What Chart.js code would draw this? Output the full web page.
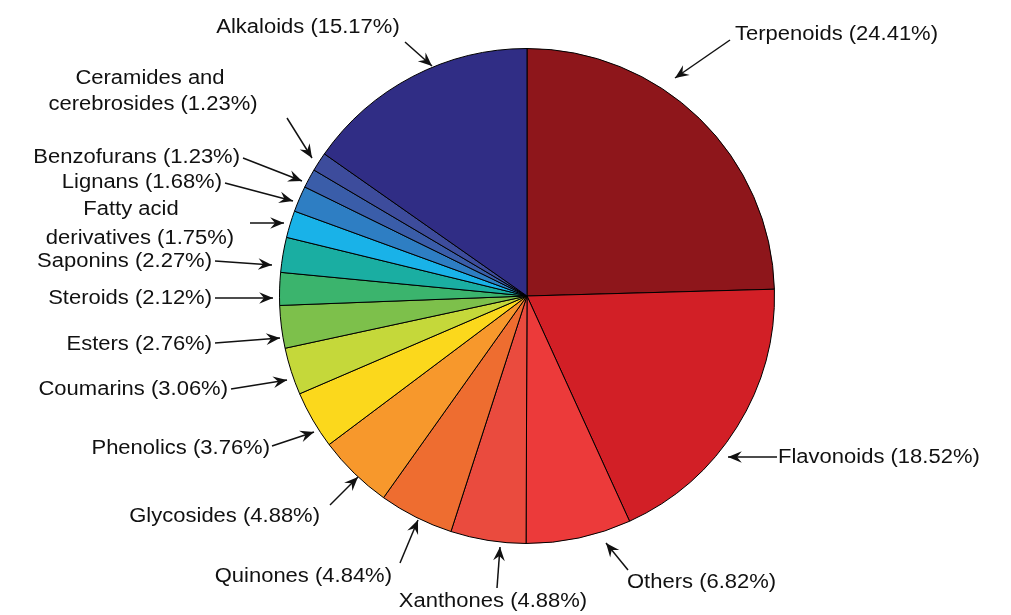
<!DOCTYPE html>
<html><head><meta charset="utf-8">
<script src="https://cdn.jsdelivr.net/npm/chart.js@4"></script>
<style>html,body{margin:0;background:#fff}#w{width:1011px;height:615px}</style>
</head><body><div id="w"><canvas id="c"></canvas></div>
<script>
const categories=["Terpenoids","Flavonoids","Others","Xanthones","Quinones","Glycosides","Phenolics","Coumarins","Esters","Steroids","Saponins","Fatty acid derivatives","Lignans","Benzofurans","Ceramides and cerebrosides","Alkaloids"];
const values=[24.41,18.52,6.82,4.88,4.84,4.88,3.76,3.06,2.76,2.12,2.27,1.75,1.68,1.23,1.23,15.17];
const colors=["#8E161B","#D21F26","#EC3A3A","#EA4B3E","#EE6D30","#F7982C","#FBD81C","#C5D83A","#7DC04B","#3BB46D","#1AAEA2","#19B2E8","#2E7EC3","#3A5DA9","#3D4C9C","#302D85"];
const labels=[
 {t:["Alkaloids (15.17%)"],x:308,y:27,a:"center",s:[405,42],e:[432,66]},
 {t:["Ceramides and","cerebrosides (1.23%)"],x:150,y:78,a:"center",dy:[0,26],xs:[0,3],s:[287,118],e:[312,158]},
 {t:["Benzofurans (1.23%)"],x:240,y:157,a:"right",s:[243,158],e:[302,181]},
 {t:["Lignans (1.68%)"],x:222,y:182,a:"right",s:[225,183],e:[293,201]},
 {t:["Fatty acid","derivatives (1.75%)"],x:131,y:209,a:"center",dy:[0,29],xs:[0,9],s:[250,223],e:[284,223]},
 {t:["Saponins (2.27%)"],x:212,y:261,a:"right",s:[215,261],e:[272,265]},
 {t:["Steroids (2.12%)"],x:212,y:298,a:"right",s:[215,298],e:[273,298]},
 {t:["Esters (2.76%)"],x:212,y:344,a:"right",s:[215,343],e:[280,338]},
 {t:["Coumarins (3.06%)"],x:228,y:389,a:"right",s:[231,389],e:[287,380]},
 {t:["Phenolics (3.76%)"],x:270,y:448,a:"right",s:[272,446],e:[314,432]},
 {t:["Glycosides (4.88%)"],x:320,y:516,a:"right",s:[330,505],e:[358,477]},
 {t:["Quinones (4.84%)"],x:392,y:576,a:"right",s:[400,563],e:[418,520]},
 {t:["Xanthones (4.88%)"],x:493,y:601,a:"center",s:[497,588],e:[500,547]},
 {t:["Others (6.82%)"],x:627,y:582,a:"left",s:[628,570],e:[606,543]},
 {t:["Flavonoids (18.52%)"],x:778,y:457,a:"left",s:[777,457],e:[728,457]},
 {t:["Terpenoids (24.41%)"],x:735,y:34,a:"left",s:[730,40],e:[675,78]}
];
const SX=1.1;
const annot={id:"annot",afterDraw(ch){const c=ch.ctx;c.save();c.font="20px 'Liberation Sans', Arial";c.fillStyle="#111";c.strokeStyle="#111";c.lineWidth=1.5;c.textBaseline="middle";
labels.forEach(l=>{c.textAlign=l.a;l.t.forEach((tx,i)=>{c.save();c.translate(l.x+(l.xs?l.xs[i]:0),l.y+(l.dy?l.dy[i]:0));c.scale(SX,1);c.fillText(tx,0,0);c.restore();});
const [x1,y1]=l.s,[x2,y2]=l.e;c.beginPath();c.moveTo(x1,y1);c.lineTo(x2,y2);c.stroke();
const ang=Math.atan2(y2-y1,x2-x1),h=15,w=0.4;c.beginPath();c.moveTo(x2,y2);c.lineTo(x2-h*Math.cos(ang-w),y2-h*Math.sin(ang-w));c.lineTo(x2-h*0.6*Math.cos(ang),y2-h*0.6*Math.sin(ang));c.lineTo(x2-h*Math.cos(ang+w),y2-h*Math.sin(ang+w));c.closePath();c.fill();});
c.restore();}};
new Chart(document.getElementById("c"),{type:"pie",data:{labels:categories,datasets:[{data:values,backgroundColor:colors,borderColor:"#000",borderWidth:1}]},
options:{responsive:true,maintainAspectRatio:false,animation:false,layout:{padding:{left:279,right:236,top:48,bottom:71}},plugins:{legend:{display:false},tooltip:{enabled:false}}},plugins:[annot]});
</script></body></html>
